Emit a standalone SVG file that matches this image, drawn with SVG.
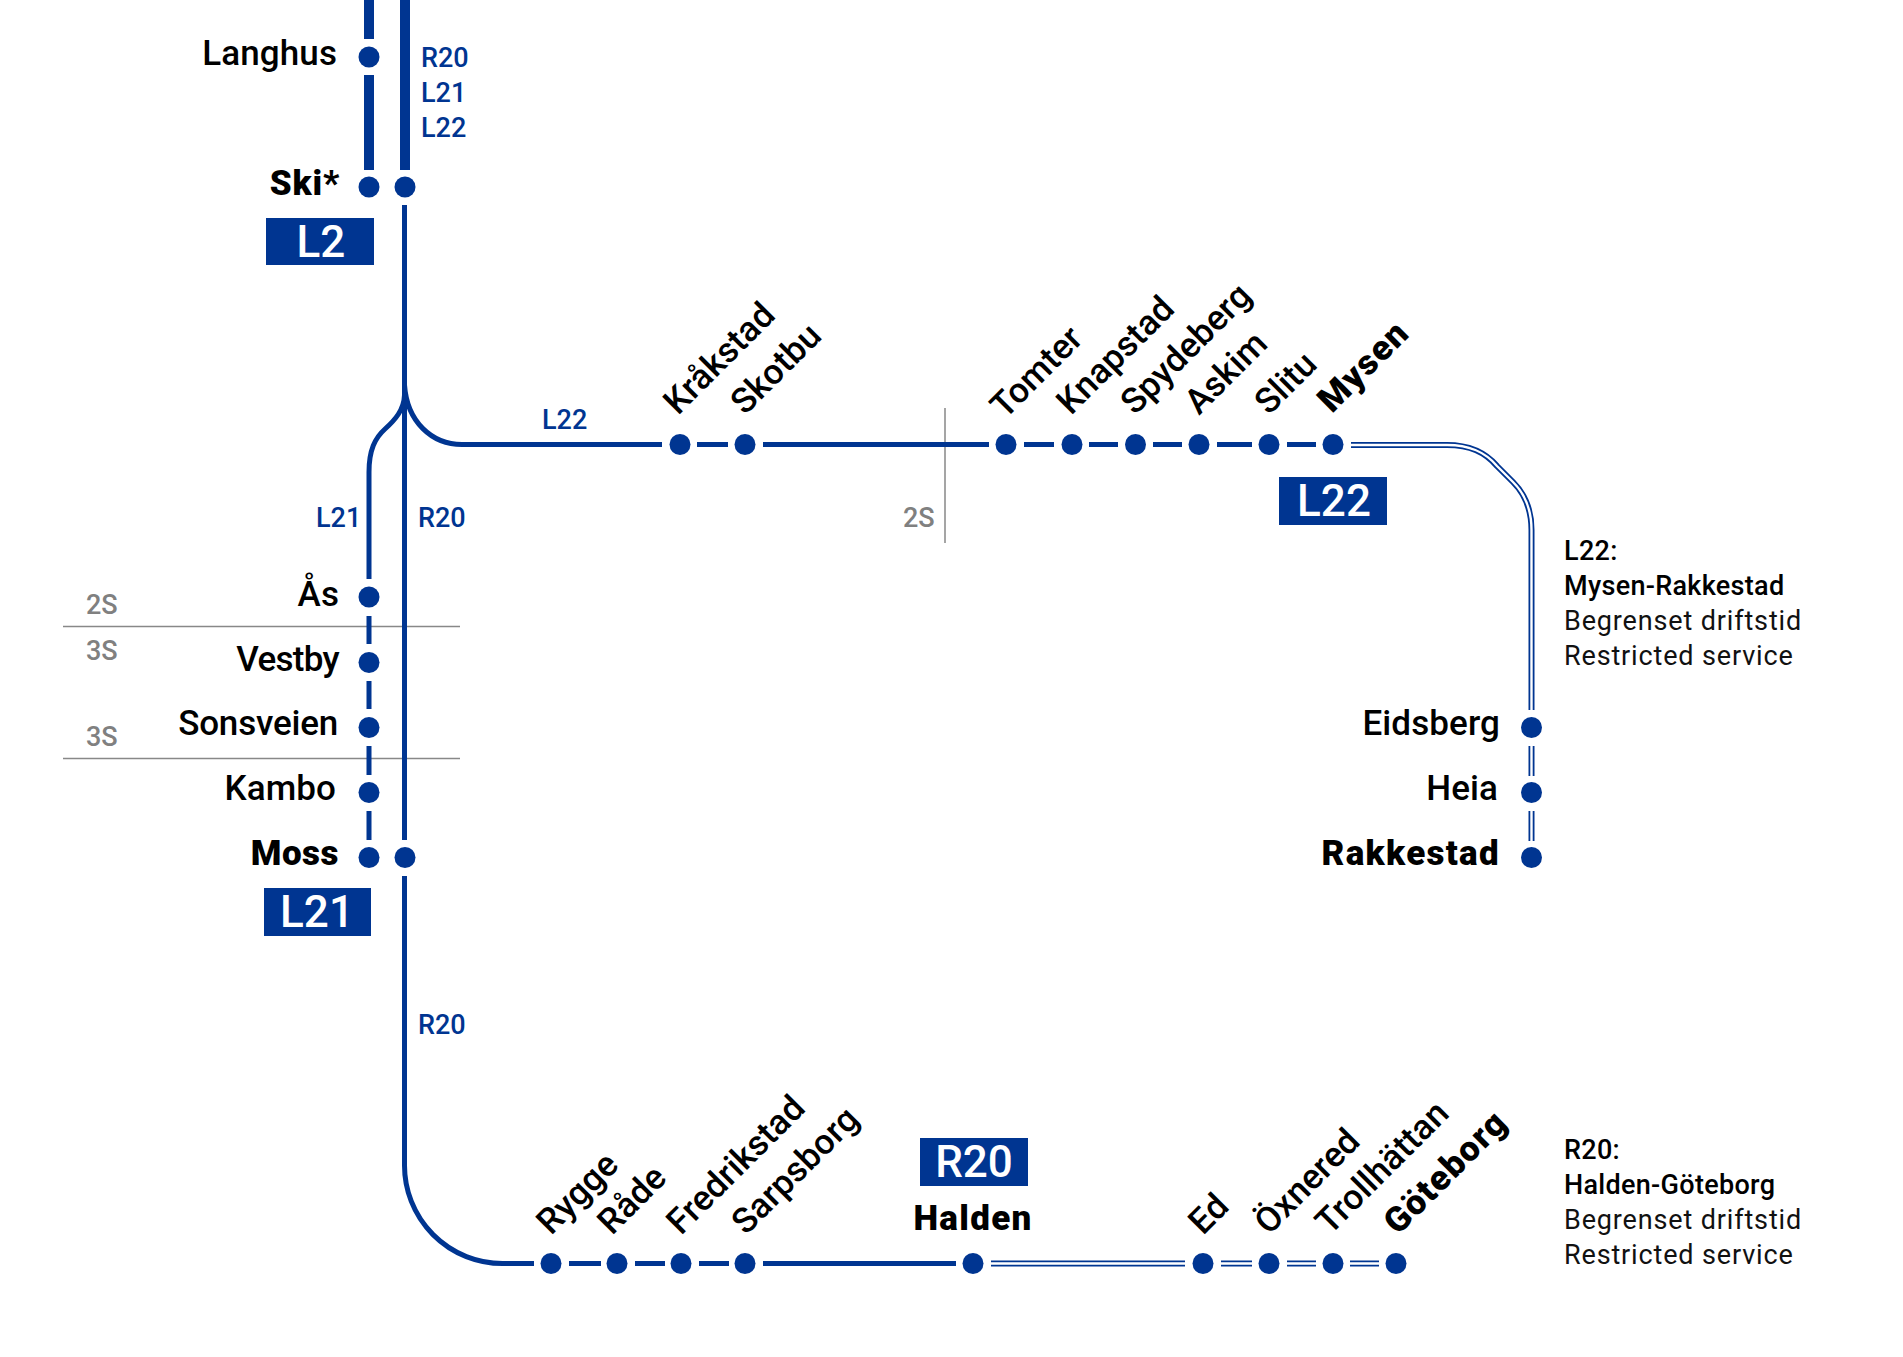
<svg xmlns="http://www.w3.org/2000/svg" width="1903" height="1357" viewBox="0 0 1903 1357">
<style>
text{font-family:Roboto,"Liberation Sans",sans-serif}
.st{font-size:35px;fill:#000;font-weight:500;letter-spacing:.1px}
.b{font-weight:900;letter-spacing:1.3px}
.e{text-anchor:end}
.lb{font-size:27px;fill:#003591;font-weight:500}
.z{font-size:27px;fill:#808080;font-weight:500}
.n{font-size:27px;fill:#111;letter-spacing:.85px}
.bd{font-size:27px;fill:#000;font-weight:500;letter-spacing:.3px}
.tag{font-size:44px;fill:#fff;text-anchor:middle;font-weight:500}
.l{fill:none;stroke:#003591;stroke-width:5}
.t{fill:none;stroke:#003591;stroke-width:10}
.d{fill:none;stroke:#003591;stroke-width:6}
.w{fill:none;stroke:#fff;stroke-width:2.4}
.g{fill:none;stroke:#888;stroke-width:1.5}
circle{fill:#003591}
rect{fill:#003591}
</style>
<g id="zones">
<path class="g" d="M63 626.500H460M63 758.500H460M945 408V543"/>
<text class="z" x="86" y="614">2S</text>
<text class="z" x="86" y="660">3S</text>
<text class="z" x="86" y="746">3S</text>
<text class="z" x="903" y="527">2S</text>
</g>
<g id="connectors">
<path class="t" d="M369 0V39M369 75V170M405 0V170"/>
<path class="l" d="M404.500 205V840M404.500 876V1165A98 98 0 0 0 502.500 1263.500H534M404.500 385C407 422 432 444.500 462 444.500H662"/>
<path class="l" d="M404.500 395C404 410 395 420 385 429C375 438 369 450 369 472V579"/>
<path class="l" d="M369 616V644M369 681V709M369 746V775M369 811V840"/>
<path class="l" d="M697 444.500H728M763 444.500H989M1024 444.500H1054M1089 444.500H1118M1153 444.500H1182M1217 444.500H1252M1287 444.500H1316"/>
<path class="l" d="M569 1263.500H601M635 1263.500H665M699 1263.500H729M763 1263.500H956"/>
<path class="d" d="M1351 445H1447C1470 445 1485 452 1497 466L1513 482C1526 495 1531.500 510 1531.500 530V710M1531.500 746V776M1531.500 811V841"/>
<path class="w" d="M1351 445H1447C1470 445 1485 452 1497 466L1513 482C1526 495 1531.500 510 1531.500 530V710M1531.500 746V776M1531.500 811V841"/>
<path class="d" d="M991 1263.500H1185M1221 1263.500H1252M1287 1263.500H1316M1350 1263.500H1379"/>
<path class="w" d="M991 1263.500H1185M1221 1263.500H1252M1287 1263.500H1316M1350 1263.500H1379"/>
</g>
<g id="line-labels">
<text class="lb" x="421" y="67">R20</text>
<text class="lb" x="421" y="102">L21</text>
<text class="lb" x="421" y="137">L22</text>
<text class="lb" x="316" y="527">L21</text>
<text class="lb" x="418" y="527">R20</text>
<text class="lb" x="542" y="429">L22</text>
<text class="lb" x="418" y="1034">R20</text>
</g>
<g id="badge-L2"><rect x="266" y="218" width="108" height="47"/><text class="tag" x="321" y="257">L2</text></g>
<g id="badge-L21"><rect x="264" y="888" width="107" height="48"/><text class="tag" x="317" y="927">L21</text></g>
<g id="badge-L22"><rect x="1279" y="477" width="108" height="48"/><text class="tag" x="1334" y="516">L22</text></g>
<g id="badge-R20"><rect x="920" y="1138" width="108" height="48"/><text class="tag" x="974" y="1177">R20</text></g>
<g id="langhus"><circle cx="369" cy="57" r="10.500"/><text class="st e" x="337" y="65">Langhus</text></g>
<g id="ski"><circle cx="369" cy="187" r="10.500"/><circle cx="405" cy="187" r="10.500"/><text class="st b e" x="340" y="195" style="letter-spacing:.8px">Ski*</text></g>
<g id="as"><circle cx="369" cy="597" r="10.500"/><text class="st e" x="339" y="606">Ås</text></g>
<g id="vestby"><circle cx="369" cy="662.500" r="10.500"/><text class="st e" x="339" y="671" style="letter-spacing:-.7px">Vestby</text></g>
<g id="sonsveien"><circle cx="369" cy="727.500" r="10.500"/><text class="st e" x="338" y="735" style="letter-spacing:-.2px">Sonsveien</text></g>
<g id="kambo"><circle cx="369" cy="792.500" r="10.500"/><text class="st e" x="336" y="800">Kambo</text></g>
<g id="moss"><circle cx="369" cy="857.500" r="10.500"/><circle cx="405" cy="857.500" r="10.500"/><text class="st b e" x="339" y="865" style="letter-spacing:.5px">Moss</text></g>
<g id="krakstad"><circle cx="680" cy="444.500" r="10.500"/><text class="st" transform="translate(678 416) rotate(-45)">Kråkstad</text></g>
<g id="skotbu"><circle cx="745" cy="444.500" r="10.500"/><text class="st" transform="translate(745 416) rotate(-45)">Skotbu</text></g>
<g id="tomter"><circle cx="1006" cy="444.500" r="10.500"/><text class="st" transform="translate(1005 420) rotate(-45)">Tomter</text></g>
<g id="knapstad"><circle cx="1072" cy="444.500" r="10.500"/><text class="st" transform="translate(1071 416) rotate(-45)">Knapstad</text></g>
<g id="spydeberg"><circle cx="1135.500" cy="444.500" r="10.500"/><text class="st" transform="translate(1135 416) rotate(-45)">Spydeberg</text></g>
<g id="askim"><circle cx="1199" cy="444.500" r="10.500"/><text class="st" transform="translate(1199 416) rotate(-45)">Askim</text></g>
<g id="slitu"><circle cx="1269" cy="444.500" r="10.500"/><text class="st" transform="translate(1269 416) rotate(-45)">Slitu</text></g>
<g id="mysen"><circle cx="1333" cy="444.500" r="10.500"/><text class="st b" transform="translate(1332 414) rotate(-45)">Mysen</text></g>
<g id="eidsberg"><circle cx="1531.500" cy="727.500" r="10.500"/><text class="st e" x="1500" y="735">Eidsberg</text></g>
<g id="heia"><circle cx="1531.500" cy="792.500" r="10.500"/><text class="st e" x="1498" y="800">Heia</text></g>
<g id="rakkestad"><circle cx="1531.500" cy="857.500" r="10.500"/><text class="st b e" x="1500" y="865">Rakkestad</text></g>
<g id="rygge"><circle cx="551" cy="1263.500" r="10.500"/><text class="st" transform="translate(551 1236) rotate(-45)">Rygge</text></g>
<g id="rade"><circle cx="617" cy="1263.500" r="10.500"/><text class="st" transform="translate(612 1236) rotate(-45)">Råde</text></g>
<g id="fredrikstad"><circle cx="681" cy="1263.500" r="10.500"/><text class="st" transform="translate(681 1236) rotate(-45)">Fredrikstad</text></g>
<g id="sarpsborg"><circle cx="745" cy="1263.500" r="10.500"/><text class="st" transform="translate(746 1236) rotate(-45)">Sarpsborg</text></g>
<g id="halden"><circle cx="973" cy="1263.500" r="10.500"/><text class="st b" x="973" y="1230" text-anchor="middle">Halden</text></g>
<g id="ed"><circle cx="1203" cy="1263.500" r="10.500"/><text class="st" transform="translate(1203 1236) rotate(-45)">Ed</text></g>
<g id="oxnered"><circle cx="1269" cy="1263.500" r="10.500"/><text class="st" transform="translate(1269 1236) rotate(-45)">Öxnered</text></g>
<g id="trollhattan"><circle cx="1333" cy="1263.500" r="10.500"/><text class="st" transform="translate(1330 1236) rotate(-45)">Trollhättan</text></g>
<g id="goteborg"><circle cx="1396" cy="1263.500" r="10.500"/><text class="st b" transform="translate(1398 1236) rotate(-45)">Göteborg</text></g>
<g id="note-l22">
<text class="bd" x="1564" y="560">L22:</text>
<text class="bd" x="1564" y="595">Mysen-Rakkestad</text>
<text class="n" x="1564" y="630">Begrenset driftstid</text>
<text class="n" x="1564" y="665">Restricted service</text>
</g>
<g id="note-r20">
<text class="bd" x="1564" y="1159">R20:</text>
<text class="bd" x="1564" y="1194">Halden-Göteborg</text>
<text class="n" x="1564" y="1229">Begrenset driftstid</text>
<text class="n" x="1564" y="1264">Restricted service</text>
</g>
</svg>
